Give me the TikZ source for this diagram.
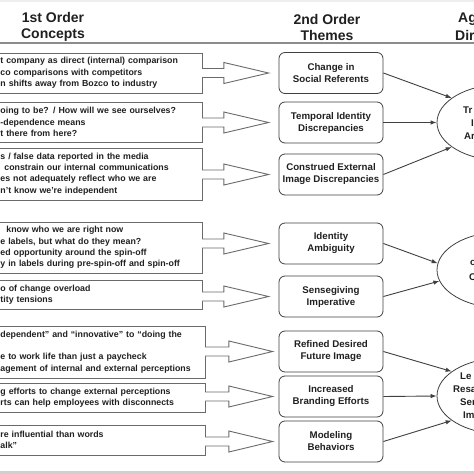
\documentclass[tikz,border=0pt]{standalone}
\usepackage{fontspec}
\setmainfont{Liberation Sans}
\usetikzlibrary{arrows.meta,shapes.geometric,calc}
\definecolor{txt}{HTML}{202020}
\definecolor{boxgray}{HTML}{6A6A6A}
\definecolor{linegray}{HTML}{404040}
\definecolor{rulegray}{HTML}{8C8C8C}
\definecolor{bandgray}{HTML}{CFCFCF}
\definecolor{topgray}{HTML}{EEEEEE}
\newcommand{\blkarrow}[4]{% #1 concept node, #2 theme node, #3 head-base offset, #4 tip gap
  \filldraw[blk] let \p1=(#1.east), \p2=(#2.west) in
    (\x1-0.9pt,\y2+4.5pt) -- (\x1+#3,\y2+4.5pt) -- (\x1+#3,\y2+10.5pt) -- (\x2-#4,\y2)
    -- (\x1+#3,\y2-10.5pt) -- (\x1+#3,\y2-4.5pt) -- (\x1-0.9pt,\y2-4.5pt);}
\begin{document}
\begin{tikzpicture}[x=1pt,y=-1pt,
  concept/.style={draw=boxgray, line width=0.9pt, fill=white, rectangle, inner xsep=3pt, inner ysep=0pt,
    anchor=west, align=left, text=txt, font=\bfseries\fontsize{8.8}{11.3}\selectfont},
  theme/.style={draw=linegray, line width=0.8pt, fill=white, rounded corners=6pt, minimum width=104pt,
    minimum height=41pt, inner sep=0pt, align=center, text=txt, font=\bfseries\fontsize{9.7}{12}\selectfont},
  agg/.style={draw=linegray, line width=0.8pt, ellipse, minimum width=130pt, minimum height=76pt, inner sep=0pt},
  frag/.style={anchor=west, inner sep=0pt, text=txt, font=\bfseries\fontsize{9.7}{12}\selectfont},
  hdr/.style={align=center, inner sep=0pt, text=txt, font=\bfseries\fontsize{14}{16}\selectfont},
  hfrag/.style={anchor=west, inner sep=0pt, text=txt, font=\bfseries\fontsize{14}{16}\selectfont},
  blk/.style={draw=boxgray, line width=0.9pt, fill=white, line join=miter},
  conn/.style={draw=linegray, line width=0.9pt, -{Latex[length=6pt,width=4.5pt]}},
  rule/.style={draw=rulegray, line width=1.3pt}
]
\useasboundingbox (0,0) rectangle (474,474);
\clip (0,0) rectangle (474,474);
\fill[white] (0,0) rectangle (474,474);
\fill[topgray] (0,0) rectangle (474,2);
\fill[bandgray] (0,471) rectangle (474,474);

% headers
\node[hdr] (h1) at (53,27) {1st Order\\Concepts};
\node[hdr] (h2) at (327,27) {2nd Order\\Themes};
\node[hfrag] (h3a) at (458,19) {Ag};
\node[hfrag] (h3b) at (455,35) {Dir};
\draw[rule] (0,43) -- (474,43);

% concept boxes
\node[concept, minimum height=40pt, text width=199pt] (c1) at (-3,73)
  {t company as direct (internal) comparison\\co comparisons with competitors\\n shifts away from Bozco to industry};
\node[concept, minimum height=40pt, text width=199pt] (c2) at (-3,122)
  {oing to be? / How will we see ourselves?\\-dependence means\\t there from here?};
\node[concept, minimum height=52pt, text width=199pt] (c3) at (-3,174)
  {s / false data reported in the media\\\hspace*{4pt}constrain our internal communications\\es not adequately reflect who we are\\n’t know we’re independent};
\node[concept, minimum height=51pt, text width=199pt] (c4) at (-3,247.5)
  {\hspace*{6pt}know who we are right now\\e labels, but what do they mean?\\ed opportunity around the spin-off\\y in labels during pre-spin-off and spin-off};
\node[concept, minimum height=29pt, text width=199pt] (c5) at (-3,294.5)
  {o of change overload\\tity tensions};
\node[concept, minimum height=52pt, text width=202pt] (c6) at (-3,352)
  {dependent” and “innovative” to “doing the\\\mbox{}\\e to work life than just a paycheck\\agement of internal and external perceptions};
\node[concept, minimum height=29pt, text width=202pt] (c7) at (-3,397.5)
  {g efforts to change external perceptions\\rts can help employees with disconnects};
\node[concept, minimum height=30pt, text width=202pt] (c8) at (-3,440)
  {re influential than words\\alk”};

% theme boxes
\node[theme] (t1) at (331,73) {Change in\\Social Referents};
\node[theme] (t2) at (331,122.5) {Temporal Identity\\Discrepancies};
\node[theme] (t3) at (331,174.5) {Construed External\\Image Discrepancies};
\node[theme] (t4) at (331,243.5) {Identity\\Ambiguity};
\node[theme] (t5) at (331,296.5) {Sensegiving\\Imperative};
\node[theme] (t6) at (331,351.5) {Refined Desired\\Future Image};
\node[theme] (t7) at (331,396.5) {Increased\\Branding Efforts};
\node[theme] (t8) at (331,441.5) {Modeling\\Behaviors};

% block arrows
\blkarrow{c1}{t1}{21pt}{10pt}
\blkarrow{c2}{t2}{21pt}{10pt}
\blkarrow{c3}{t3}{21pt}{10pt}
\blkarrow{c4}{t4}{21pt}{10pt}
\blkarrow{c5}{t5}{21pt}{10pt}
\blkarrow{c6}{t6}{23pt}{6pt}
\blkarrow{c7}{t7}{23pt}{6pt}
\blkarrow{c8}{t8}{23pt}{6pt}

% aggregate dimensions
\node[agg] (e1) at (502,122.5) {};
\node[agg] (e2) at (502,270) {};
\node[agg] (e3) at (502,396) {};
\node[frag] (e1a) at (463,110) {Tr};
\node[frag] (e1b) at (471,123) {I};
\node[frag] (e1c) at (464,136) {Ar};
\node[frag] (e2a) at (470,263) {o};
\node[frag] (e2b) at (469,277) {C};
\node[frag] (e3a) at (460,376) {Le};
\node[frag] (e3b) at (453,389) {Resa};
\node[frag] (e3c) at (460,402.5) {Ser};
\node[frag] (e3d) at (463,415) {Im};

% connectors
\draw[conn] (t1.east) -- (e1.154);
\draw[conn] (t2.east) -- (e1.west);
\draw[conn] (t3.east) -- (e1.206);
\draw[conn] (t4.east) -- (e2.174);
\draw[conn] (t5.east) -- (e2.190);
\draw[conn] (t6.east) -- (e3.154);
\draw[conn] (t7.east) -- (e3.west);
\draw[conn] (t8.east) -- (e3.206);
\end{tikzpicture}
\end{document}
